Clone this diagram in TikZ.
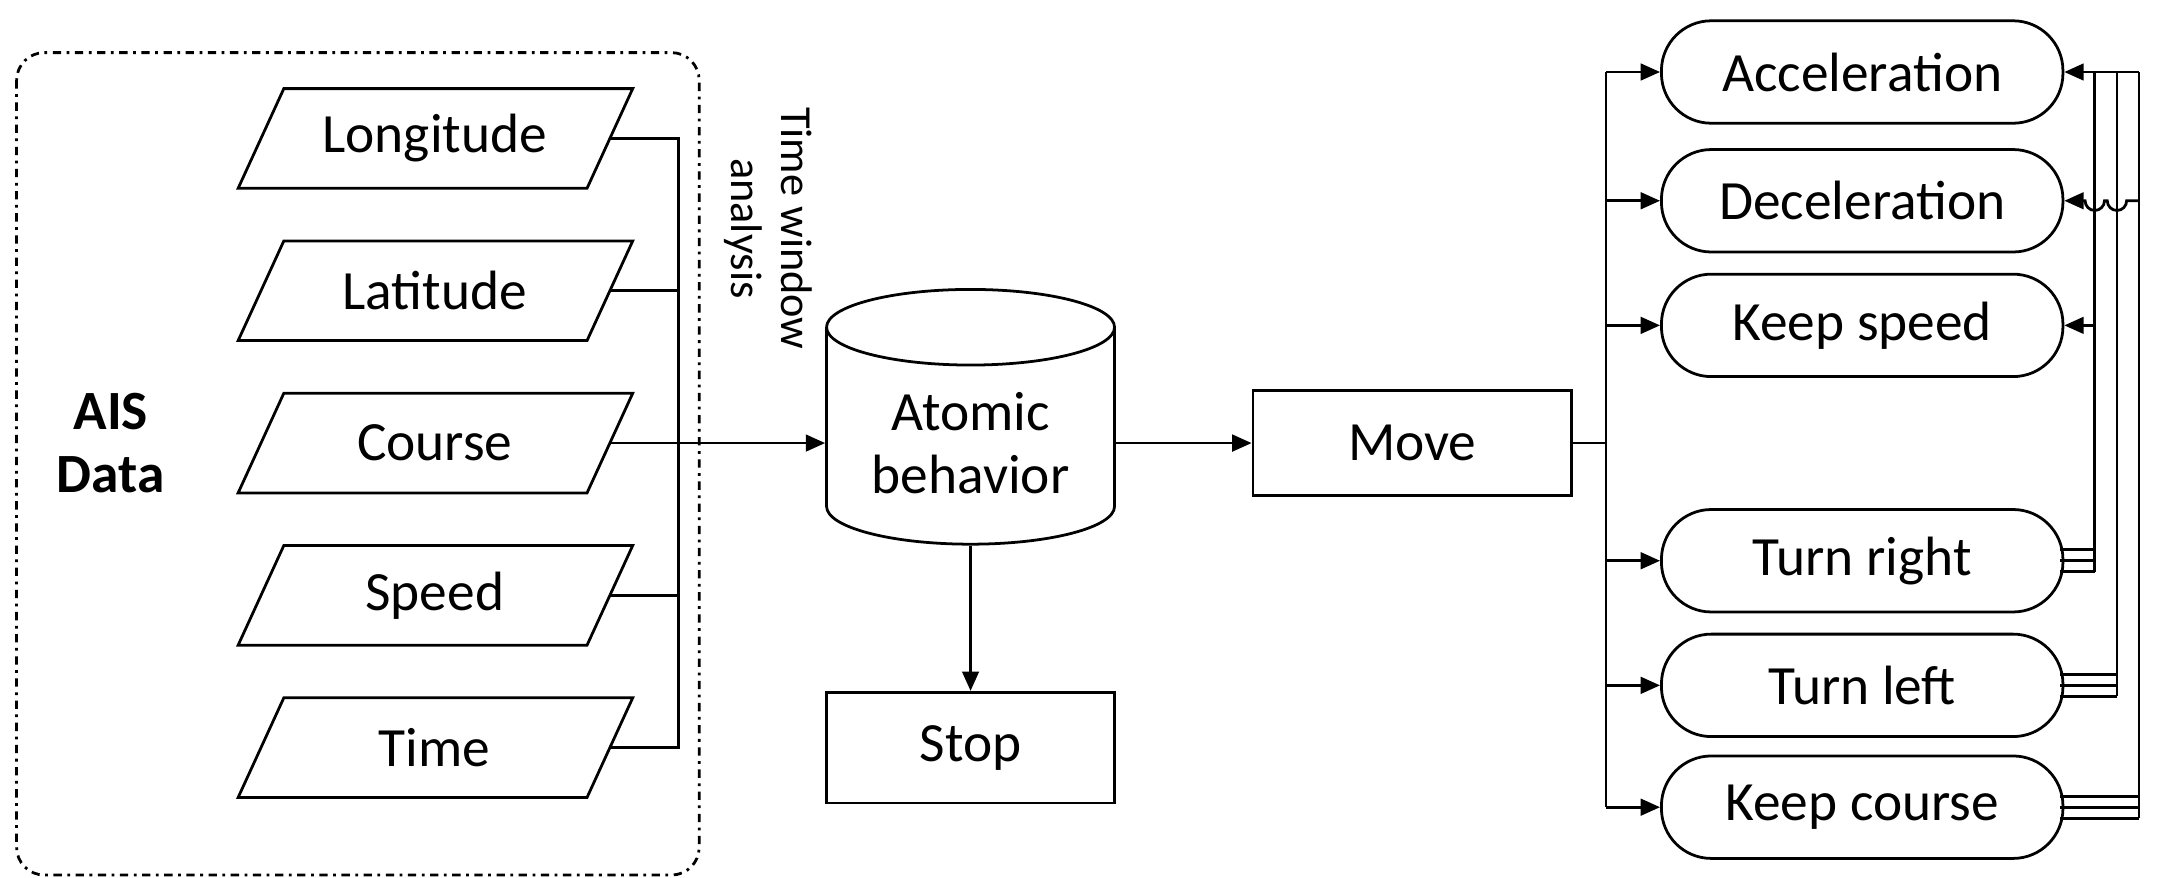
\documentclass[tikz,border=0pt]{standalone}
\usepackage{fontspec}
\setmainfont{Carlito}
\usetikzlibrary{shapes.geometric,arrows.meta}
\begin{document}
\begin{tikzpicture}[x=0.5pt,y=-0.5pt,line width=1pt,
  every node/.style={font=\fontsize{20}{23}\selectfont},
  box/.style={draw,minimum width=115pt,minimum height=40pt},
  rbox/.style={draw,rounded corners=18pt,minimum width=145pt,minimum height=37pt},
  arr/.style={-{Triangle[length=7pt,width=6pt]}}]
\useasboundingbox (0,0) rectangle (1563,634);
\draw[dash dot,rounded corners=10pt] (12,38) rectangle (505,632);
\node[font=\fontsize{20}{23}\selectfont\bfseries,align=center] (ais) at (80,320) {AIS\\Data};
\foreach \n/\t/\y in {lon/Longitude/100,lat/Latitude/210,cou/Course/320,spd/Speed/430,tim/Time/540}{
  \draw (205,\y-36) -- (457,\y-36) -- (424,\y+36) -- (172,\y+36) -- cycle;
  \node (\n) at (314,\y) {\t};
  \coordinate (\n-r) at (440,\y);
  \coordinate (\n-b) at (490,\y);
}
\draw (lon-r) -- (lon-b) -- (tim-b) -- (tim-r);
\draw (lat-r) -- (lat-b);
\draw (spd-r) -- (spd-b);
\node[rotate=-90,align=center,font=\fontsize{16}{18}\selectfont] (tw) at (555,165) {Time window\\analysis};
\node[cylinder,shape border rotate=90,draw,minimum width=104pt,minimum height=92pt,aspect=0.35,align=center] (cyl) at (701,320) {Atomic\\behavior};
\draw[arr] (cou-r) -- (cou-r-|cyl.west);
\node[box,minimum width=104pt] (stop) at (701,540) {Stop};
\draw[arr] (cyl.south) -- (stop.north);
\node[box,minimum height=38pt] (move) at (1020,320) {Move};
\draw[arr] (move-|cyl.east) -- (move.west);
\coordinate (mv) at (1160,320);
\draw (move.east) -- (mv);
\foreach \n/\t/\y in {acc/Acceleration/52,dec/Deceleration/145,ks/Keep speed/235,tr/Turn right/405,tl/Turn left/495,kc/Keep course/583}{
  \node[rbox] (\n) at (1345,\y) {\t};
  \coordinate (\n-l) at (1160,\y);
  \draw[arr] (\n-l) -- (\n.west);
}
\draw (acc-l) -- (kc-l);
\foreach \n/\x/\y in {tr/1513/405,tl/1529/495,kc/1545/583}{
  \foreach \d in {-8,0,8}{\draw (1488,\y+\d) -- (\x,\y+\d);}
  \coordinate (\n-v) at (\x,\y+8);
  \coordinate (\n-t) at (\x,52);
  \draw (\n-v) -- (\n-t);
}
\draw[arr] (kc-t) -- (acc.east);
\draw[arr] (tr-v|-ks) coordinate (ks-s) -- (ks.east);
\coordinate (dec-s) at (1545,145);
\draw[arr] (dec-s) -- (1536,145) arc[start angle=0,end angle=180,radius=7] -- (1520,145) arc[start angle=0,end angle=180,radius=7] -- (dec.east);
\end{tikzpicture}
\end{document}
